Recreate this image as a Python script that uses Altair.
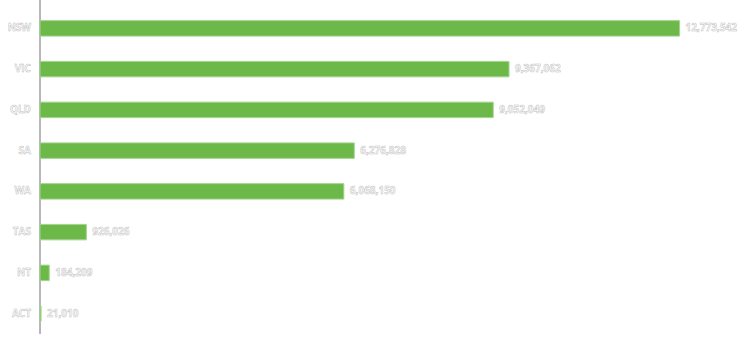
import altair as alt
import pandas as pd

states = ["NSW", "VIC", "QLD", "SA", "WA", "TAS", "NT", "ACT"]
values = [12773542, 9367062, 9052049, 6276828, 6068150, 926026, 184209, 21010]

df = pd.DataFrame({"state": states, "value": values})
df["label"] = df["value"].map(lambda v: f"{v:,}")

y_enc = alt.Y("state:N", sort=states, title=None,
              scale=alt.Scale(paddingInner=0.62, paddingOuter=0.31),
              axis=None)
x_enc = alt.X("value:Q", title=None, scale=alt.Scale(domain=[0, 14000000]),
              axis=None)

base = alt.Chart(df).encode(y=y_enc)

# vertical baseline running the full chart height
axis_line = alt.Chart(df).mark_rule(color="#b8b8b8", strokeWidth=1.2).encode(
    x=alt.value(0), y=alt.value(-8), y2=alt.value(326)
)

bars = base.mark_bar(color="#6cb94a", stroke="#a2d48f", strokeWidth=1).encode(x=x_enc)

halo = dict(font="Open Sans", fontSize=10, fontWeight="bold",
            fill="white", stroke="#bdbdbd", strokeWidth=0.5, baseline="middle")

values_text = base.mark_text(align="left", dx=6, **halo).encode(
    x=x_enc, text="label:N")

state_text = base.mark_text(align="right", **halo).encode(
    x=alt.value(-9), text="state:N")

chart = alt.layer(axis_line, bars, values_text, state_text).properties(
    width=701, height=326,
    autosize=alt.AutoSizeParams(type="none"),
    padding={"left": 40, "top": 8, "right": 9, "bottom": 9},
).configure(background="white").configure_view(stroke=None)

chart.save("out.html", embed_options={"renderer": "svg", "actions": False})
